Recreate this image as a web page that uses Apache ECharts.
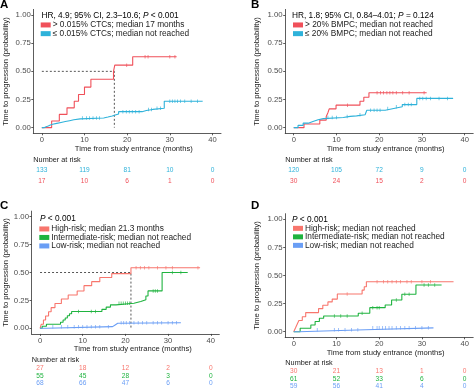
<!DOCTYPE html>
<html>
<head>
<meta charset="utf-8">
<script src="https://cdn.jsdelivr.net/npm/echarts@6/dist/echarts.min.js"></script>
<style>
html, body { margin: 0; background: #fff; }
#chart { width: 474px; height: 390px; }
</style>
</head>
<body>
<div id="chart"></div>
<script>
// ---- data ----
const monthTicks = [0, 10, 20, 30, 40]
const probTicks = [0, 0.25, 0.5, 0.75, 1]

// A: CTCs
const aHighT = [0, 2.3, 4.1, 5.9, 7.6, 8.6, 10.0, 11.5, 16.8, 17.1, 21.3, 31.6]
const aHighP = [0, 0.059, 0.118, 0.176, 0.235, 0.294, 0.36, 0.43, 0.5, 0.555, 0.63, 0.63]
const aHighCens = [19.9, 24.2, 24.9, 30.0, 31.2]
const aLowT = [0, 0.5, 1.0, 1.5, 2.0, 2.5, 3.5, 4.5, 5.5, 6.5, 7.5, 9.0, 14.5, 15.5, 16.5, 17.2, 18.0, 23.5, 24.5, 26.0, 28.7, 37.7]
const aLowP = [0, 0.008, 0.015, 0.023, 0.03, 0.038, 0.046, 0.054, 0.062, 0.07, 0.078, 0.086, 0.094, 0.103, 0.112, 0.122, 0.142, 0.152, 0.162, 0.172, 0.235, 0.235]
const aLowCens = [9.5, 10.5, 11.2, 12.0, 12.8, 13.5, 19.0, 19.8, 20.5, 21.2, 22.0, 22.8, 25.0, 25.7, 27.0, 27.8, 30.0, 30.6, 31.2, 31.8, 32.5, 33.5, 35.0, 36.5]
const aMedian = 17
const aRiskLow = [133, 119, 81, 10, 0]
const aRiskHigh = [17, 10, 6, 1, 0]

// B: BMPC
const bHighT = [0, 2.4, 6.1, 7.6, 8.0, 8.3, 9.9, 15.5, 16.4, 17.6, 31.1]
const bHighP = [0, 0.033, 0.067, 0.1, 0.133, 0.167, 0.2, 0.235, 0.27, 0.31, 0.31]
const bHighCens = [12.6, 19.5, 20.3, 21.0, 21.8, 22.5, 23.2, 24.0, 25.5, 27.0, 30.5]
const bLowT = [0, 1.0, 2.2, 3.4, 4.5, 5.7, 6.9, 11.6, 13.2, 14.7, 16.7, 17.1, 21.4, 23.4, 25.4, 28.8, 37.3]
const bLowP = [0, 0.02, 0.04, 0.055, 0.07, 0.08, 0.09, 0.10, 0.105, 0.115, 0.125, 0.155, 0.17, 0.185, 0.205, 0.26, 0.26]
const bLowCens = [8.0, 9.0, 10.0, 12.5, 15.5, 18.0, 18.8, 19.5, 20.2, 22.0, 24.0, 26.0, 26.8, 27.5, 29.5, 30.2, 31.0, 32.0, 34.0, 36.0]
const bRiskLow = [120, 105, 72, 9, 0]
const bRiskHigh = [30, 24, 15, 2, 0]

// C: risk groups
const cHighT = [0, 0.3, 0.8, 1.3, 2.0, 2.6, 3.5, 5.0, 6.6, 8.7, 10.3, 12.1, 14.0, 16.8, 21.3, 37.5]
const cHighP = [0, 0.037, 0.074, 0.111, 0.148, 0.185, 0.222, 0.262, 0.298, 0.334, 0.382, 0.418, 0.455, 0.49, 0.543, 0.543]
const cHighCens = [22.5, 23.5, 24.5, 25.5, 27.5, 29.5, 31.0, 37.0]
const cMidT = [0, 0.5, 1.5, 4.8, 5.4, 5.9, 6.4, 6.9, 7.4, 14.5, 15.5, 16.5, 17.8, 22.0, 23.6, 24.8, 25.3, 28.6, 34.6]
const cMidP = [0, 0.018, 0.036, 0.055, 0.074, 0.093, 0.112, 0.131, 0.15, 0.17, 0.19, 0.21, 0.225, 0.24, 0.255, 0.29, 0.335, 0.5, 0.5]
const cMidCens = [9.0, 12.0, 13.0, 18.5, 19.0, 19.5, 20.0, 20.5, 21.0, 26.5, 27.0, 27.5, 31.0, 33.0]
const cLowT = [0, 1.5, 17.0, 17.6, 18.2, 33.0]
const cLowP = [0, 0.015, 0.03, 0.045, 0.05, 0.05]
const cLowCens = [3.0, 5.0, 6.5, 8.0, 9.0, 10.0, 11.0, 12.0, 13.0, 14.0, 16.0, 19.0, 19.6, 20.2, 21.0, 22.0, 23.0, 24.0, 25.0, 26.5, 27.5, 28.5, 30.0, 31.0, 32.0]
const cMedian = 21.3
const cRiskHigh = [27, 18, 12, 2, 0]
const cRiskMid = [55, 45, 28, 3, 0]
const cRiskLow = [68, 66, 47, 6, 0]

// D: risk groups
const dHighT = [0, 0.4, 0.8, 1.2, 2.0, 2.8, 5.8, 6.8, 8.0, 9.0, 10.2, 16.0, 16.5, 17.0, 37.4]
const dHighP = [0, 0.033, 0.067, 0.1, 0.133, 0.17, 0.205, 0.235, 0.265, 0.29, 0.335, 0.37, 0.40, 0.445, 0.445]
const dHighCens = [12.5, 19.5, 21.0, 22.0, 23.0, 24.0, 25.0, 26.5, 27.5, 30.0, 32.0]
const dMidT = [0, 1.5, 4.0, 5.0, 6.0, 7.0, 15.1, 17.8, 21.4, 22.9, 25.3, 28.6, 34.6]
const dMidP = [0, 0.03, 0.06, 0.09, 0.119, 0.14, 0.164, 0.214, 0.238, 0.282, 0.333, 0.415, 0.415]
const dMidCens = [9.5, 11.0, 12.5, 16.0, 18.5, 19.5, 20.0, 24.0, 26.0, 27.0, 30.5, 31.5, 33.0]
const dLowT = [0, 1.2, 16.8, 32.7]
const dLowP = [0, 0.017, 0.034, 0.034]
const dLowCens = [5.5, 9.5, 10.5, 12.0, 13.5, 15.0, 18.5, 19.5, 20.0, 20.8, 21.5, 22.3, 23.0, 24.0, 25.0, 26.0, 27.0, 28.5, 30.0, 31.5]
const dRiskHigh = [30, 21, 13, 1, 0]
const dRiskMid = [61, 52, 33, 6, 0]
const dRiskLow = [59, 56, 41, 4, 0]

// ---- styling ----
const RED = '#F0505A'
const CYAN = '#2EB2DA'
const RED2 = '#F8766D'
const GREEN = '#1FB33F'
const BLUE2 = '#6A9EF5'
const AXIS = '#333333'
const SANS = 'Liberation Sans'
const LEG_SIZE = 8.3

const mainGrids = [
  { left: 33.3, top: 9.4, width: 187.7, height: 123.9 },
  { left: 285.2, top: 9.4, width: 188, height: 123.9 },
  { left: 31.5, top: 211.1, width: 187.8, height: 122.8 },
  { left: 285.2, top: 213.7, width: 188, height: 123.6 },
]
const riskGrids = [
  { left: 33.3, top: 165, width: 187.7, height: 21 },
  { left: 285.2, top: 165, width: 188, height: 21 },
  { left: 31.5, top: 364.5, width: 187.8, height: 22.5 },
  { left: 285.2, top: 368, width: 188, height: 22.5 },
]

function stepAt(ts, ps, t) {
  let v = ps[0]
  for (let i = 0; i < ts.length; i++) if (ts[i] <= t) v = ps[i]
  return v
}

function curve(name, color, ts, ps, cens, g) {
  return [
    {
      name, type: 'line', step: 'end', xAxisIndex: g, yAxisIndex: g,
      data: ts.map((t, i) => [t, ps[i]]),
      symbol: 'none', color, lineStyle: { width: 1.1, color }, z: 3,
    },
    {
      name: name + ' censored', type: 'scatter', xAxisIndex: g, yAxisIndex: g,
      data: cens.map(t => [t, stepAt(ts, ps, t)]),
      symbol: 'rect', symbolSize: [0.8, 3.5], itemStyle: { color }, z: 4,
    },
  ]
}

function medianLine(m, g) {
  return {
    type: 'line', xAxisIndex: g, yAxisIndex: g,
    data: [[0, 0.5], [m, 0.5], [m, 0]],
    symbol: 'none', lineStyle: { width: 0.9, color: '#444', type: [2, 2] }, z: 2,
  }
}

// number-at-risk rows: invisible points carrying a text label
function riskRows(g, rows) {
  return rows.map((r, k) => ({
    type: 'scatter', xAxisIndex: 4 + g, yAxisIndex: 4 + g,
    data: monthTicks.map((m, i) => [m, k, r.vals[i]]),
    symbolSize: 2, itemStyle: { color: 'rgba(0,0,0,0)' },
    label: {
      show: true, position: 'inside', formatter: p => String(p.value[2]),
      color: r.color, fontSize: 6.6, fontFamily: SANS, opacity: 1,
    },
    labelLayout: { hideOverlap: false },
  }))
}

const xAxes = mainGrids.map((_, g) => ({
  type: 'value', gridIndex: g, min: -2, max: 42,
  splitLine: { show: false },
  axisLine: { onZero: false, lineStyle: { color: AXIS, width: 0.8 } },
  axisTick: { customValues: monthTicks, length: 2, lineStyle: { color: AXIS, width: 0.8 } },
  axisLabel: { customValues: monthTicks, margin: 3, fontSize: 7.6, fontFamily: SANS, color: '#4d4d4d' },
})).concat(riskGrids.map((_, g) => ({
  type: 'value', gridIndex: 4 + g, min: -2, max: 42, show: false,
})))

const yAxes = mainGrids.map((_, g) => ({
  type: 'value', gridIndex: g, min: -0.05, max: 1.05,
  splitLine: { show: false },
  axisLine: { show: true, onZero: false, lineStyle: { color: AXIS, width: 0.8 } },
  axisTick: { show: true, customValues: probTicks, length: 2, lineStyle: { color: AXIS, width: 0.8 } },
  axisLabel: { customValues: probTicks, margin: 2.5, fontSize: 7.8, fontFamily: SANS, color: '#4d4d4d', formatter: v => v.toFixed(2) },
})).concat(riskGrids.map((_, g) => ({
  type: 'category', gridIndex: 4 + g, inverse: true, show: false,
  data: g < 2 ? ['r0', 'r1'] : ['r0', 'r1', 'r2'],
})))

function legendAt(left, top, names, rowH) {
  return {
    left, top, orient: 'vertical', data: names, icon: 'rect',
    itemWidth: 10, itemHeight: 5, itemGap: 0, padding: 0, selectedMode: false,
    textStyle: { fontSize: LEG_SIZE, fontFamily: SANS, color: '#222', lineHeight: rowH, padding: [0, 0, 0, -3] },
  }
}

const aNames = ['> 0.015% CTCs; median 17 months', '≤ 0.015% CTCs; median not reached']
const bNames = ['> 20% BMPC; median not reached', '≤ 20% BMPC; median not reached']
const cNames = ['High-risk; median 21.3 months', 'Intermediate-risk; median not reached', 'Low-risk; median not reached']
const dNames = ['High-risk; median not reached', 'Intermediate-risk; median not reached', 'Low-risk; median not reached']

function txt(x, y, text, opts = {}) {
  return {
    type: 'text', x, y, rotation: opts.rotation || 0, silent: true,
    style: {
      text, fill: opts.color || '#222', fontSize: opts.size || 7.5,
      fontFamily: opts.family || SANS, fontWeight: opts.weight || 'normal',
      align: opts.align || 'left', verticalAlign: 'middle',
    },
  }
}

function statTxt(x, y, pre, post) {
  const base = { fontSize: LEG_SIZE, fontFamily: SANS, color: '#222' }
  return {
    type: 'text', x, y, silent: true,
    style: {
      text: '{n|' + pre + '}{i|P}{n|' + post + '}',
      verticalAlign: 'middle',
      rich: { n: base, i: Object.assign({}, base, { fontStyle: 'italic' }) },
    },
  }
}

const graphics = [
  txt(0, 4.5, 'A', { size: 11.5, weight: 'bold', color: '#000' }),
  txt(251, 4.5, 'B', { size: 11.5, weight: 'bold', color: '#000' }),
  txt(0, 206, 'C', { size: 11.5, weight: 'bold', color: '#000' }),
  txt(251, 206, 'D', { size: 11.5, weight: 'bold', color: '#000' }),
  statTxt(41.5, 15.5, 'HR, 4.9; 95% CI, 2.3–10.6; ', ' < 0.001'),
  statTxt(292, 15.5, 'HR, 1.8; 95% CI, 0.84–4.01; ', ' = 0.124'),
  statTxt(40, 218.7, '', ' < 0.001'),
  statTxt(292, 219.3, '', ' < 0.001'),
  txt(133.8, 149.3, 'Time from study entrance (months)', { align: 'center', size: 7.6 }),
  txt(385.7, 149.3, 'Time from study entrance (months)', { align: 'center', size: 7.6 }),
  txt(132.8, 349.3, 'Time from study entrance (months)', { align: 'center', size: 7.6 }),
  txt(385.7, 353.3, 'Time from study entrance (months)', { align: 'center', size: 7.6 }),
  txt(5.5, 71.5, 'Time to progression (probability)', { align: 'center', size: 7.6, rotation: Math.PI / 2 }),
  txt(257, 71.5, 'Time to progression (probability)', { align: 'center', size: 7.6, rotation: Math.PI / 2 }),
  txt(5.5, 272.5, 'Time to progression (probability)', { align: 'center', size: 7.6, rotation: Math.PI / 2 }),
  txt(257, 275.5, 'Time to progression (probability)', { align: 'center', size: 7.6, rotation: Math.PI / 2 }),
  txt(33.3, 160, 'Number at risk', { size: 7.3 }),
  txt(285.3, 160, 'Number at risk', { size: 7.3 }),
  txt(31.7, 360, 'Number at risk', { size: 7.3 }),
  txt(285.3, 363.3, 'Number at risk', { size: 7.3 }),
]

const series = [
  ...curve(aNames[0], RED, aHighT, aHighP, aHighCens, 0),
  ...curve(aNames[1], CYAN, aLowT, aLowP, aLowCens, 0),
  medianLine(aMedian, 0),
  ...curve(bNames[0], RED, bHighT, bHighP, bHighCens, 1),
  ...curve(bNames[1], CYAN, bLowT, bLowP, bLowCens, 1),
  ...curve(cNames[0], RED2, cHighT, cHighP, cHighCens, 2),
  ...curve(cNames[1], GREEN, cMidT, cMidP, cMidCens, 2),
  ...curve(cNames[2], BLUE2, cLowT, cLowP, cLowCens, 2),
  medianLine(cMedian, 2),
  ...curve(dNames[0], RED2, dHighT, dHighP, dHighCens, 3),
  ...curve(dNames[1], GREEN, dMidT, dMidP, dMidCens, 3),
  ...curve(dNames[2], BLUE2, dLowT, dLowP, dLowCens, 3),
  ...riskRows(0, [{ vals: aRiskLow, color: CYAN }, { vals: aRiskHigh, color: RED }]),
  ...riskRows(1, [{ vals: bRiskLow, color: CYAN }, { vals: bRiskHigh, color: RED }]),
  ...riskRows(2, [{ vals: cRiskHigh, color: RED2 }, { vals: cRiskMid, color: GREEN }, { vals: cRiskLow, color: BLUE2 }]),
  ...riskRows(3, [{ vals: dRiskHigh, color: RED2 }, { vals: dRiskMid, color: GREEN }, { vals: dRiskLow, color: BLUE2 }]),
]

const chart = echarts.init(document.getElementById('chart'), null, { renderer: 'canvas' })
chart.setOption({
  backgroundColor: '#fff',
  animation: false,
  grid: mainGrids.concat(riskGrids),
  xAxis: xAxes,
  yAxis: yAxes,
  legend: [
    legendAt(40.7, 20.6, aNames, 8.7),
    legendAt(293, 20.6, bNames, 8.7),
    legendAt(39.3, 224.7, cNames, 8.5),
    legendAt(293, 224.1, dNames, 8.5),
  ],
  graphic: graphics,
  series,
})
</script>
</body>
</html>
